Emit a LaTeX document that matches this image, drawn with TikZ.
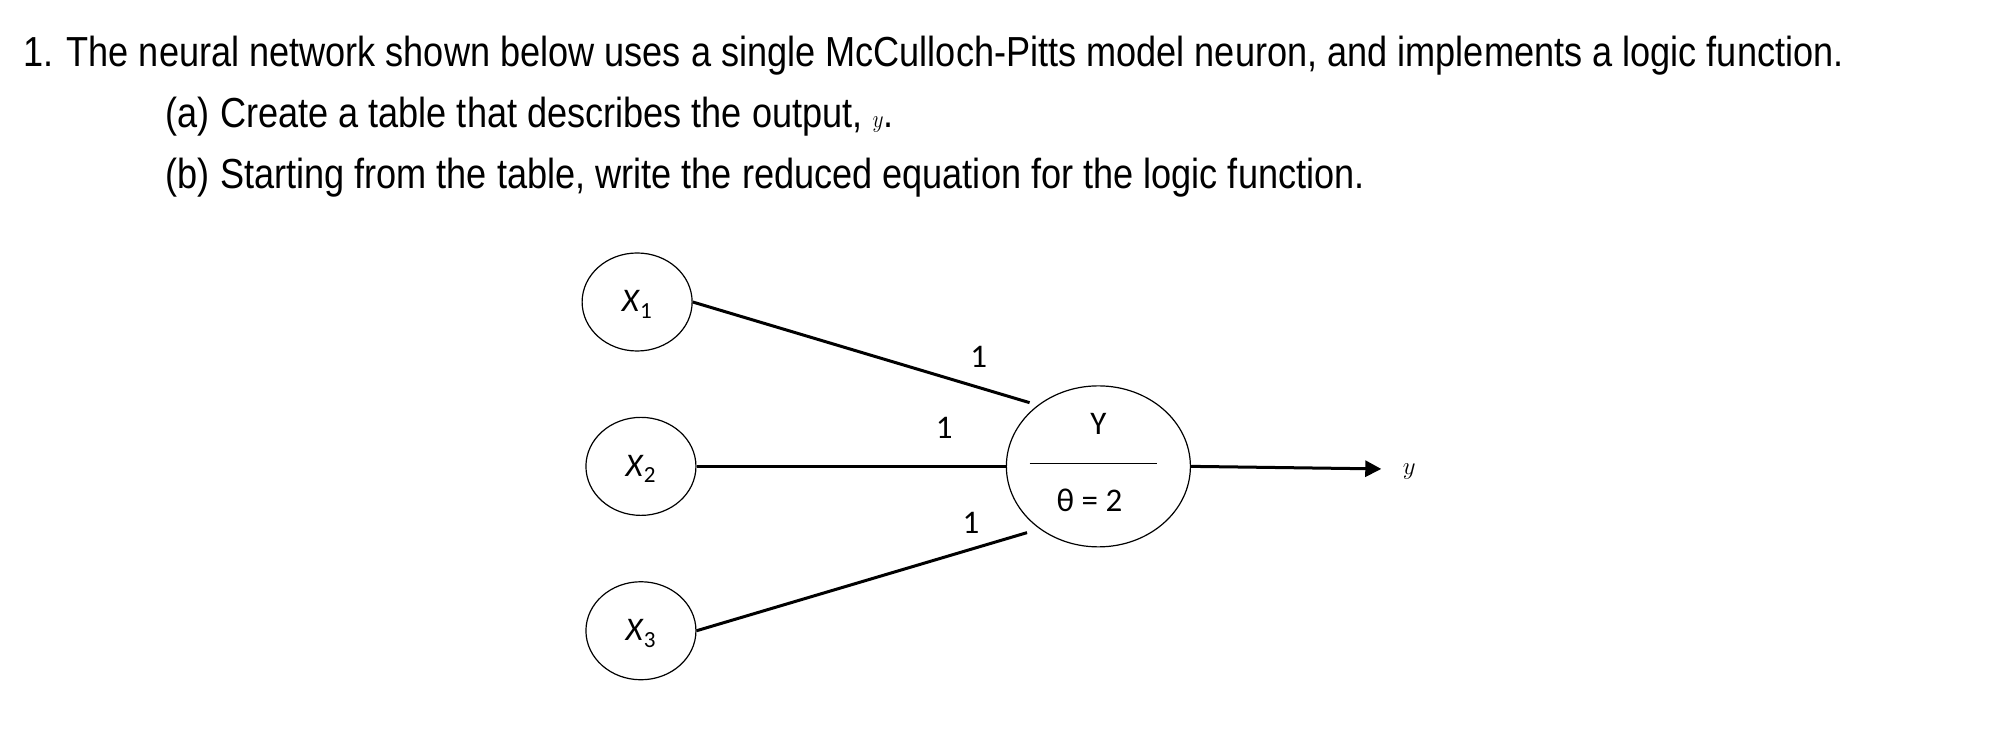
\documentclass[tikz,border=0pt]{standalone}
\usepackage{fontspec}
\setmainfont{Liberation Sans}
\newfontfamily\calfnt{Carlito}
\usetikzlibrary{arrows.meta,shapes.geometric}
\begin{document}
\begin{tikzpicture}[x=1.274pt,y=-1.274pt,
  inp/.style={ellipse,draw,line width=1.2pt,minimum width=110pt,minimum height=98pt,inner sep=0pt},
  neur/.style={ellipse,draw,line width=1.2pt,minimum width=184pt,minimum height=161pt,inner sep=0pt},
  edge/.style={line width=3pt},
  lab/.style={font=\calfnt\fontsize{33}{33}\selectfont,inner sep=0pt},
  ttl/.style={anchor=base west,inner sep=0pt,font=\fontsize{42}{42}\selectfont}]
\useasboundingbox (0,0) rectangle (1568,577);
\node[ttl] (t1) at (18,52) {\scalebox{0.86}[1]{1. The neural network shown below uses a single McCulloch-Pitts model neuron, and implements a logic function.}};
\node[ttl] (t2) at (130,100) {\scalebox{0.86}[1]{(a) Create a table that describes the output, {\fontsize{48}{48}$y$}.}};
\node[ttl] (t3) at (130,148) {\scalebox{0.86}[1]{(b) Starting from the table, write the reduced equation for the logic function.}};
\node[inp] (x1) at (500,237) {};
\node[inp] (x2) at (503,366) {};
\node[inp] (x3) at (503,495) {};
\node[lab] at (500,239) {\textit{X}\textsubscript{1}};
\node[lab] at (503,368) {\textit{X}\textsubscript{2}};
\node[lab] at (503,497) {\textit{X}\textsubscript{3}};
\node[neur] (Y) at (862,366) {};
\node[lab] (yl) at (862,333) {Y};
\node[lab] (th) at (855,393) {θ = 2};
\draw[line width=1.2pt] (808,364) -- (908,364);
\coordinate (e1) at (808,316);
\coordinate (e3) at (806,418);
\draw[edge] (x1.east) -- (e1);
\draw[edge] (x2.east) -- (Y.west);
\draw[edge] (x3.east) -- (e3);
\node[lab] (w1) at (768,280) {1};
\node[lab] (w2) at (741,336) {1};
\node[lab] (w3) at (762,410) {1};
\node[inner sep=0pt,font=\fontsize{44}{44}\selectfont] (out) at (1106,370) {$y$};
\draw[edge,-{Triangle[length=16pt,width=16pt]}] (Y.east) -- (1084,368);
\end{tikzpicture}
\end{document}
